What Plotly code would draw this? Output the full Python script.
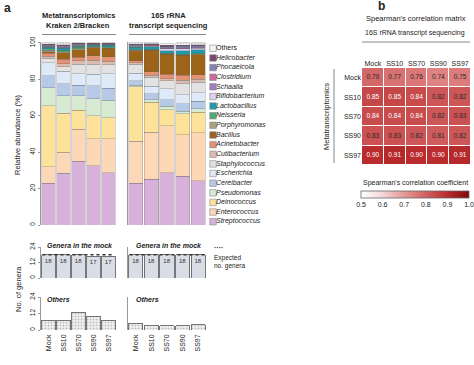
import plotly.graph_objects as go

W, H = 474, 365
def fx(p): return p / W
def fy(p): return 1 - p / H

# ---------------- data ----------------
genera = ["Streptococcus", "Enterococcus", "Deinococcus", "Pseudomonas", "Cereibacter",
          "Escherichia", "Staphylococcus", "Cutibacterium", "Acinetobacter", "Bacillus",
          "Porphyromonas", "Neisseria", "Lactobacillus", "Bifidobacterium", "Schaalia",
          "Clostridium", "Phocaeicola", "Helicobacter", "Others"]
samples = ["Mock", "SS10", "SS70", "SS90", "SS97"]

# Metatranscriptomics (Kraken 2/Bracken), relative abundance (%) per genus, bottom -> top
meta_mock = [23, 9, 33.5, 10, 6.5, 7, 2.5, 1.2, 1.5, 1, 0.7, 0.8, 0.8, 0.3, 0.2, 0.2, 0.4, 0.6, 0.8]
meta_ss10 = [28.5, 11.5, 21.5, 9.5, 6.5, 7, 2.5, 1.5, 2.5, 3.5, 0.6, 1, 1, 0.3, 0.3, 0.3, 0.5, 0.5, 1.0]
meta_ss70 = [35, 17.5, 10.5, 8, 5.7, 6.5, 5, 2, 2, 4, 0.5, 0.8, 0.8, 0.3, 0.2, 0.2, 0.3, 0.4, 0.3]
meta_ss90 = [32.6, 14.8, 12.6, 9.4, 7, 6.5, 5.5, 2, 2.5, 4.4, 0.4, 0.5, 0.6, 0.2, 0.2, 0.2, 0.2, 0.2, 0.2]
meta_ss97 = [28.6, 18.8, 11.4, 9.7, 6.5, 8, 5, 2, 2.5, 4.5, 0.4, 0.6, 0.8, 0.2, 0.2, 0.2, 0.2, 0.2, 0.4]

# 16S rRNA transcript sequencing
s16_mock = [22.8, 23.2, 30, 0.8, 2.5, 4, 5, 0.8, 1.2, 5.5, 0.3, 0.3, 1.2, 0.5, 0.2, 0.2, 0.4, 0.4, 0.7]
s16_ss10 = [25, 26, 16.5, 1.2, 3.5, 4, 5, 1, 2, 11.8, 0.2, 0.3, 1.3, 0.5, 0.2, 0.2, 0.4, 0.4, 0.5]
s16_ss70 = [28.6, 26, 8.6, 2, 3.5, 6, 4.5, 1.2, 2.3, 11, 0.3, 0.3, 1.5, 1, 0.3, 0.3, 0.6, 0.6, 1.0]
s16_ss90 = [26.8, 22.8, 11.4, 1.5, 4, 5, 6, 2, 2.7, 11, 0.3, 0.4, 1.8, 1, 0.4, 0.3, 0.7, 0.7, 1.2]
s16_ss97 = [24.2, 26.4, 11.4, 1.8, 4.2, 4.5, 6, 1.5, 2.5, 11, 0.3, 0.4, 2, 1, 0.4, 0.3, 0.6, 0.6, 1.0]

meta_table = [meta_mock, meta_ss10, meta_ss70, meta_ss90, meta_ss97]
s16_table = [s16_mock, s16_ss10, s16_ss70, s16_ss90, s16_ss97]

# Number of genera
mock_genera_meta = [18, 18, 18, 17, 17]
mock_genera_16s = [18, 18, 18, 18, 18]
expected_genera = 18
others_meta = [7, 7, 13, 10, 7]
others_16s = [5, 3, 3, 3, 4]

# Spearman's correlation matrix (rows: metatranscriptomics, cols: 16S)
corr_mock = [0.79, 0.77, 0.76, 0.74, 0.75]
corr_ss10 = [0.85, 0.85, 0.84, 0.82, 0.82]
corr_ss70 = [0.84, 0.84, 0.84, 0.82, 0.83]
corr_ss90 = [0.83, 0.83, 0.82, 0.81, 0.82]
corr_ss97 = [0.90, 0.91, 0.90, 0.90, 0.91]
corr = [corr_mock, corr_ss10, corr_ss70, corr_ss90, corr_ss97]
cbar_ticks = [0.5, 0.6, 0.7, 0.8, 0.9, 1.0]
cbar_labels = ["0.5", "0.6", "0.7", "0.8", "0.9", "1.0"]
abund_ticks = [0, 20, 40, 60, 80, 100]
count_ticks = [0, 12, 24]

# ---------------- styles ----------------
genus_colors = ["#d8b1da", "#fdd8b6", "#fde39a", "#d6ebd1", "#b6c9e6",
                "#dfeaf8", "#e2e2e2", "#dcbcae", "#e39274", "#9b6419",
                "#a9a182", "#4eaa75", "#1b9bac", "#dcd0f3", "#a17dc2",
                "#cb6c9e", "#8182b8", "#7a4a6f", "#f3f3f3"]
FONT = "Liberation Sans, Arial, sans-serif"
NARROW = "Liberation Sans Narrow, Arial Narrow, Liberation Sans, Arial, sans-serif"
TXT = "#222222"
AX = "#9a9a9a"

fig = go.Figure()

def stacked(table, xa, ya):
    for gi, g in enumerate(genera):
        vals = [row[gi] for row in table]
        mk = dict(color=genus_colors[gi], line=dict(color="rgba(95,95,95,0.55)", width=0.5))
        if g == "Others":
            mk["pattern"] = dict(shape=".", fgcolor="#9a9a9a", bgcolor="#f5f5f5", size=3, solidity=0.25)
        fig.add_trace(go.Bar(x=samples, y=vals, xaxis=xa, yaxis=ya, marker=mk,
                             showlegend=False, hoverinfo="skip"))

stacked(meta_table, "x", "y")
stacked(s16_table, "x2", "y2")

def count_bars(vals, xa, ya, pattern, show_text):
    mk = dict(color="#d9dde6", line=dict(color="#555555", width=0.8))
    if pattern:
        mk = dict(color="#efefef", line=dict(color="#555555", width=0.8),
                  pattern=dict(shape=".", fgcolor="#8a8a8a", bgcolor="#f2f2f2", size=3, solidity=0.3))
    fig.add_trace(go.Bar(x=samples, y=vals, xaxis=xa, yaxis=ya, marker=mk,
                         text=[str(v) for v in vals] if show_text else None,
                         textposition="inside" if show_text else None,
                         insidetextanchor="end",
                         textfont=dict(size=6, color="#333333", family=FONT),
                         showlegend=False, hoverinfo="skip"))

count_bars(mock_genera_meta, "x3", "y3", False, True)
count_bars(mock_genera_16s, "x4", "y4", False, True)
count_bars(others_meta, "x5", "y5", True, False)
count_bars(others_16s, "x6", "y6", True, False)

# Heatmap
fig.add_trace(go.Heatmap(
    z=corr, x=samples, y=samples, xaxis="x7", yaxis="y7",
    zmin=0.5, zmax=1.0, xgap=1, ygap=1,
    colorscale=[[0, "#ffffff"], [0.2, "#f4d6d6"], [0.5, "#dd7c7c"], [0.8, "#bb2c2e"], [1, "#7e0a0c"]],
    hoverinfo="skip",
    colorbar=dict(orientation="h", x=fx(415), xanchor="center", y=fy(189), yanchor="top",
                  len=fx(108), lenmode="fraction", thickness=7, outlinewidth=0.8,
                  outlinecolor="#666666", tickvals=cbar_ticks, ticktext=cbar_labels,
                  ticks="", tickfont=dict(size=7, family=FONT, color=TXT), xpad=0, ypad=2)))

# Heatmap cell values
cx, cy, ct, cc = [], [], [], []
for ri, row in enumerate(corr):
    for ci, v in enumerate(row):
        cx.append(samples[ci]); cy.append(samples[ri]); ct.append(f"{v:.2f}")
        cc.append("#ffffff" if v >= 0.835 else "#2a2a2a")
fig.add_trace(go.Scatter(x=cx, y=cy, xaxis="x7", yaxis="y7", mode="text", text=ct,
                         textfont=dict(size=6.5, color=cc, family=FONT),
                         showlegend=False, hoverinfo="skip"))

# Custom legend (own axis)
leg_idx = list(range(len(genera)))
leg_names = [g if g == "Others" else f"<i>{g}</i>" for g in genera]
fig.add_trace(go.Scatter(x=[4] * len(genera), y=leg_idx, xaxis="x8", yaxis="y8", mode="markers",
                         marker=dict(symbol="square", size=6.5, color=genus_colors,
                                     line=dict(color="#8a8a8a", width=0.6)),
                         showlegend=False, hoverinfo="skip"))
fig.add_trace(go.Scatter(x=[7] * len(genera), y=leg_idx, xaxis="x8", yaxis="y8", mode="text",
                         text=leg_names, textposition="middle right",
                         textfont=dict(size=7, color=TXT, family=FONT),
                         showlegend=False, hoverinfo="skip"))

# ---------------- layout ----------------
def yax(dom, rng, ticks, show):
    d = dict(domain=dom, range=rng, showgrid=False, zeroline=False, fixedrange=True,
             showline=True, linecolor=AX, linewidth=1)
    if show:
        d.update(tickvals=ticks, ticks="outside", ticklen=2, tickcolor=AX, tickangle=-90,
                 tickfont=dict(size=6.5, family=FONT, color=TXT))
    else:
        d.update(showticklabels=False, ticks="")
    return d

def xax(dom, anchor, labels):
    d = dict(domain=dom, anchor=anchor, showgrid=False, zeroline=False, fixedrange=True,
             showline=False, ticks="")
    if labels:
        d.update(tickangle=-90, tickfont=dict(size=7, family=FONT, color=TXT), ticklabelstandoff=2)
    else:
        d.update(showticklabels=False)
    return d

LX = [fx(41), fx(116)]
RX = [fx(128), fx(206)]
yA = [fy(225), fy(42)]
yM = [fy(278), fy(247)]
yO = [fy(330), fy(297)]

fig.update_layout(
    width=W, height=H, margin=dict(l=0, r=0, t=0, b=0, autoexpand=False),
    paper_bgcolor="white", plot_bgcolor="white",
    barmode="stack", bargap=0.09,
    font=dict(family=FONT, color=TXT, size=7),
    xaxis=xax(LX, "y", False), yaxis=dict(yax(yA, [0, 100.5], abund_ticks, True), anchor="x"),
    xaxis2=xax(RX, "y2", False), yaxis2=dict(yax(yA, [0, 100.5], abund_ticks, False), anchor="x2"),
    xaxis3=xax(LX, "y3", False), yaxis3=dict(yax(yM, [0, 24], count_ticks, True), anchor="x3"),
    xaxis4=xax(RX, "y4", False), yaxis4=dict(yax(yM, [0, 24], count_ticks, False), anchor="x4"),
    xaxis5=xax(LX, "y5", True), yaxis5=dict(yax(yO, [0, 24], count_ticks, True), anchor="x5"),
    xaxis6=xax(RX, "y6", True), yaxis6=dict(yax(yO, [0, 24], count_ticks, False), anchor="x6"),
    xaxis7=dict(domain=[fx(362), fx(471)], anchor="y7", side="top", showgrid=False, zeroline=False,
                ticks="", showline=False, tickfont=dict(size=7, family=FONT, color=TXT), fixedrange=True),
    yaxis7=dict(domain=[fy(165), fy(68)], anchor="x7", autorange="reversed", showgrid=False,
                zeroline=False, ticks="", showline=False, tickfont=dict(size=7, family=FONT, color=TXT),
                fixedrange=True),
    xaxis8=dict(domain=[fx(209), fx(290)], range=[0, 81], anchor="y8", visible=False, fixedrange=True),
    yaxis8=dict(domain=[fy(226.5), fy(43.5)], range=[-0.5, 18.5], anchor="x8", visible=False, fixedrange=True),
)

# Expected number of genera (dotted line)
for xa, ya in [("x3", "y3"), ("x4", "y4")]:
    fig.add_shape(type="line", xref=f"{xa} domain", yref=ya, x0=0.02, x1=0.98,
                  y0=expected_genera, y1=expected_genera,
                  line=dict(color="#333333", width=1.3, dash="dot"))

# Heading rules
for x0, x1, y in [(42, 116, 34.5), (129, 206, 34.5), (362, 470, 42)]:
    fig.add_shape(type="line", xref="paper", yref="paper", x0=fx(x0), x1=fx(x1), y0=fy(y), y1=fy(y),
                  line=dict(color="#888888", width=1))
fig.add_shape(type="line", xref="paper", yref="paper", x0=fx(334), x1=fx(334), y0=fy(69), y1=fy(163),
              line=dict(color="#888888", width=1))

def ann(text, x, y, size=7, bold=False, italic=False, xanchor="center", yanchor="middle",
        angle=0, family=FONT, color=TXT):
    if bold:
        text = f"<b>{text}</b>"
    if italic:
        text = f"<i>{text}</i>"
    fig.add_annotation(text=text, x=fx(x), y=fy(y), xref="paper", yref="paper", showarrow=False,
                       xanchor=xanchor, yanchor=yanchor, textangle=angle,
                       font=dict(size=size, family=family, color=color), align="left")

ann("a", 2, 8, size=12, bold=True, xanchor="left")
ann("b", 376, 6, size=12, bold=True, xanchor="left")
ann("Metatranscriptomics", 78, 15.5, size=7.5, bold=True, family=NARROW)
ann("Kraken 2/Bracken", 78, 25, size=7.5, bold=True, family=NARROW)
ann("16S rRNA", 168, 15.5, size=7.5, bold=True, family=NARROW)
ann("transcript sequencing", 168, 25, size=7.5, bold=True, family=NARROW)
ann("Relative abundance (%)", 18, 135, size=7.5, angle=-90)
ann("No. of genera", 18, 289, size=7.5, angle=-90)
ann("Genera in the mock", 45, 245, size=7, bold=True, italic=True, xanchor="left")
ann("Genera in the mock", 134, 245, size=7, bold=True, italic=True, xanchor="left")
ann("Others", 45, 299, size=7, bold=True, italic=True, xanchor="left")
ann("Others", 134, 299, size=7, bold=True, italic=True, xanchor="left")
ann("<b>····</b>", 212, 247, size=7, xanchor="left")
ann("Expected<br>no. genera", 212, 262, size=6.5, xanchor="left")
ann("Spearman's correlation matrix", 416, 18, size=7.5)
ann("16S rRNA transcript sequencing", 415, 33, size=7)
ann("Metatranscriptomics", 326, 117, size=7.5, angle=-90)
ann("Spearman's correlation coefficient", 415, 183, size=7)

fig.write_html("out.html", config={"displayModeBar": False},
               post_script="document.body.style.margin='0';document.body.style.overflow='hidden';")
